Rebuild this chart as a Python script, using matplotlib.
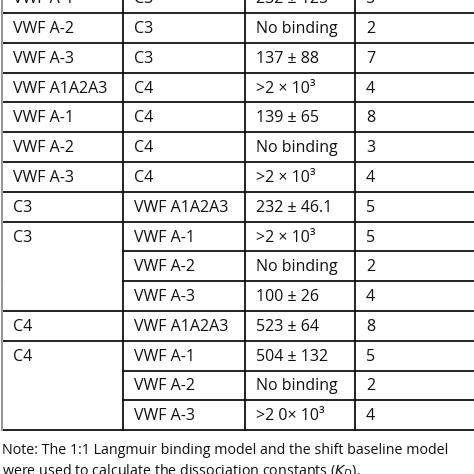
import matplotlib
matplotlib.use("Agg")
import matplotlib.pyplot as plt

col1 = ["VWF A-1", "VWF A-2", "VWF A-3", "VWF A1A2A3", "VWF A-1", "VWF A-2", "VWF A-3",
        "C3", "C3", "", "", "C4", "C4", "", ""]
col2 = ["C3", "C3", "C3", "C4", "C4", "C4", "C4",
        "VWF A1A2A3", "VWF A-1", "VWF A-2", "VWF A-3", "VWF A1A2A3", "VWF A-1", "VWF A-2", "VWF A-3"]
col3 = ["232 ± 125", "No binding", "137 ± 88", ">2 × 10³", "139 ± 65", "No binding", ">2 × 10³",
        "232 ± 46.1", ">2 × 10³", "No binding", "100 ± 26", "523 ± 64", "504 ± 132", "No binding", ">2 0× 10³"]
col4 = ["5", "2", "7", "4", "8", "3", "4", "5", "5", "2", "4", "8", "5", "2", "4"]
# rows whose first-column cell continues from the row above (merged cell)
merged = [False]*9 + [True, True, False, False, True, True]

fig = plt.figure(figsize=(4.74, 4.74), dpi=100)
ax = fig.add_axes([0, 0, 1, 1])
ax.set_xlim(0, 474); ax.set_ylim(474, 0); ax.axis("off")
plt.rcParams['font.family'] = ['Open Sans', 'DejaVu Sans']

xs = [2, 123, 245, 355, 474]
top, rh = -16.8, 29.8
n = len(col1)
fs = 11.5
lc = "#111111"
for i in range(n):
    y0 = top + i*rh
    y1 = y0 + rh
    # horizontal line at bottom of row
    if i < n-1 and merged[i+1]:
        ax.plot([xs[1], xs[4]], [y1, y1], color=lc, lw=1.3)
    else:
        ax.plot([xs[0], xs[4]], [y1, y1], color=lc, lw=1.3)
    for x in xs[1:4]:
        ax.plot([x, x], [y0, y1], color=lc, lw=1.3)
    ax.plot([xs[0], xs[0]], [y0, y1], color="#999999", lw=1.5)
    yc = (y0 + y1)/2 + 1
    for j, c in enumerate([col1, col2, col3, col4]):
        if c[i]:
            ax.text(xs[j] + 11, yc, c[i], fontsize=fs, va="center", ha="left", color="#111111")

ax.text(2, 450, "Note: The 1:1 Langmuir binding model and the shift baseline model",
        fontsize=10.3, va="center", ha="left", color="#111111")
ax.text(2, 471, "were used to calculate the dissociation constants ($K_D$).",
        fontsize=10.3, va="center", ha="left", color="#111111")
fig.savefig("out.png", dpi=100)
